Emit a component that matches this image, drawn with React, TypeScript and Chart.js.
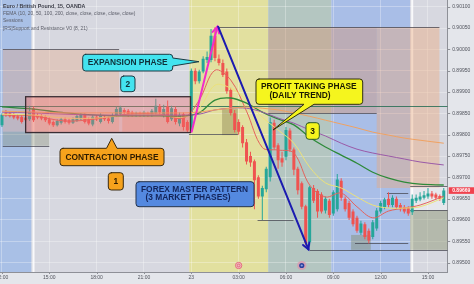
import React, { useEffect, useRef } from 'react';
import { Chart, registerables } from 'chart.js';

Chart.register(...registerables);

// ---- candles (15 min, index 0 = 12:00 on the 22nd) ----
const opens = [
  0.89822, 0.89852, 0.8985, 0.89846, 0.89843, 0.89842, 0.8984, 0.89836, 0.89862, 0.89846,
  0.89844, 0.89842, 0.89836, 0.8983, 0.89822, 0.89828, 0.89836, 0.89834, 0.89828, 0.89832,
  0.89836, 0.89846, 0.89836, 0.89824, 0.89842, 0.8983, 0.89842, 0.89838, 0.8983, 0.89846,
  0.89848, 0.89858, 0.89856, 0.89852, 0.89846, 0.8985, 0.89846, 0.8985, 0.89846, 0.8985,
  0.89866, 0.89844, 0.89866, 0.89836, 0.8986, 0.89826, 0.89848, 0.8983, 0.89812, 0.8995,
  0.89925, 0.89948, 0.89975, 0.89975, 0.90032, 0.89978, 0.89968, 0.89948, 0.89905, 0.8985,
  0.8983, 0.89818, 0.89782, 0.8975, 0.89738, 0.897, 0.89655, 0.89672, 0.897, 0.89828,
  0.89775, 0.89745, 0.89748, 0.8981, 0.89765, 0.8972, 0.89686, 0.89632, 0.89548, 0.89675,
  0.89668, 0.8966, 0.89622, 0.89645, 0.89615, 0.89625, 0.89692, 0.8965, 0.8964, 0.8962,
  0.89605, 0.8957, 0.8959, 0.89575, 0.8956, 0.8958, 0.8962, 0.8963, 0.8965, 0.89635,
  0.8965, 0.89635, 0.8963, 0.89628, 0.89618, 0.89645, 0.89648, 0.89652, 0.89655, 0.89662,
  0.8966, 0.89656, 0.8964,
];
const highs = [
  0.8985, 0.89858, 0.89855, 0.8985, 0.89848, 0.89846, 0.89844, 0.89868, 0.89866, 0.8985,
  0.89848, 0.89845, 0.8984, 0.89833, 0.89836, 0.8984, 0.8984, 0.89838, 0.8984, 0.89848,
  0.8985, 0.8985, 0.8984, 0.89846, 0.89846, 0.8985, 0.89846, 0.89842, 0.8985, 0.89866,
  0.89868, 0.89862, 0.8986, 0.89856, 0.89854, 0.89854, 0.89856, 0.89854, 0.8986, 0.89884,
  0.89872, 0.8987, 0.8988, 0.89868, 0.89866, 0.89852, 0.89852, 0.89834, 0.89955, 0.89956,
  0.89952, 0.89984, 0.89995, 0.90048, 0.90052, 0.89988, 0.89976, 0.89955, 0.8991, 0.89858,
  0.89836, 0.89822, 0.8979, 0.8976, 0.89742, 0.89705, 0.8968, 0.89725, 0.8984, 0.89835,
  0.8978, 0.8976, 0.89818, 0.89815, 0.8977, 0.89725, 0.8969, 0.89636, 0.8968, 0.89682,
  0.89672, 0.89665, 0.89655, 0.8965, 0.8967, 0.89708, 0.89698, 0.89655, 0.89645, 0.89625,
  0.8961, 0.89598, 0.89595, 0.8958, 0.896, 0.89628, 0.89645, 0.89652, 0.89665, 0.89658,
  0.89655, 0.8964, 0.89635, 0.89632, 0.8966, 0.8966, 0.89665, 0.89668, 0.89675, 0.89668,
  0.89664, 0.8966, 0.89675,
];
const lows = [
  0.89818, 0.89842, 0.8984, 0.89836, 0.89834, 0.89826, 0.8983, 0.89832, 0.8983, 0.89836,
  0.89834, 0.8983, 0.89822, 0.89818, 0.89819, 0.89824, 0.89826, 0.89824, 0.89825, 0.8983,
  0.89833, 0.89826, 0.89822, 0.8982, 0.89832, 0.89826, 0.89832, 0.89826, 0.89826, 0.89842,
  0.89844, 0.89848, 0.89842, 0.89842, 0.89842, 0.89842, 0.89842, 0.89842, 0.89842, 0.89846,
  0.89846, 0.8984, 0.89826, 0.89832, 0.89824, 0.8982, 0.8981, 0.89806, 0.89808, 0.89918,
  0.8992, 0.89944, 0.89968, 0.8997, 0.89972, 0.89962, 0.89935, 0.89896, 0.89845, 0.89805,
  0.898, 0.8977, 0.8973, 0.89725, 0.89625, 0.8965, 0.896, 0.89665, 0.8969, 0.89765,
  0.8972, 0.89725, 0.8974, 0.8976, 0.89705, 0.8966, 0.89625, 0.8954, 0.8954, 0.8964,
  0.89605, 0.89615, 0.89615, 0.89605, 0.8961, 0.8962, 0.89645, 0.8962, 0.896, 0.89585,
  0.8957, 0.89565, 0.89555, 0.89545, 0.89555, 0.89575, 0.89615, 0.89625, 0.8963, 0.8963,
  0.89625, 0.8962, 0.89615, 0.8961, 0.89612, 0.8964, 0.89644, 0.89648, 0.8965, 0.8965,
  0.89648, 0.89645, 0.89635,
];
const closes = [
  0.89846, 0.89846, 0.89843, 0.8984, 0.89838, 0.8983, 0.89834, 0.89854, 0.89834, 0.8984,
  0.89838, 0.89834, 0.89826, 0.89822, 0.89832, 0.89836, 0.8983, 0.89828, 0.89836, 0.89844,
  0.89846, 0.8983, 0.89826, 0.89842, 0.89836, 0.89846, 0.89836, 0.89832, 0.89846, 0.8986,
  0.89864, 0.89852, 0.89846, 0.89846, 0.8985, 0.89846, 0.89852, 0.89846, 0.89856, 0.89868,
  0.89852, 0.8986, 0.8983, 0.89862, 0.8983, 0.89846, 0.89818, 0.8981, 0.8995, 0.89925,
  0.89948, 0.89978, 0.89982, 0.90032, 0.8998, 0.89968, 0.8994, 0.89902, 0.89851, 0.89811,
  0.89807, 0.8978, 0.89737, 0.89735, 0.89693, 0.89655, 0.89675, 0.8972, 0.8983, 0.8977,
  0.8974, 0.89735, 0.89811, 0.89765, 0.89718, 0.8967, 0.89631, 0.89546, 0.89677, 0.89645,
  0.8962, 0.8962, 0.8965, 0.89612, 0.89665, 0.89695, 0.89652, 0.89625, 0.89605, 0.8959,
  0.89575, 0.89592, 0.8956, 0.89552, 0.89595, 0.89622, 0.8964, 0.89648, 0.89635, 0.89652,
  0.8963, 0.89625, 0.8962, 0.89615, 0.8965, 0.89652, 0.89655, 0.89658, 0.89662, 0.89655,
  0.89652, 0.8965, 0.89669,
];

// ---- moving averages, sampled at candle indices ----
const emaIndex = [0, 8, 16, 24, 32, 40, 46, 50, 54, 58, 62, 66, 70, 74, 78, 82, 86, 90, 94, 98, 102, 106, 112];
const ema10 = [0.89846, 0.89844, 0.89832, 0.89837, 0.89848, 0.89848, 0.89839, 0.89881, 0.89951, 0.89928, 0.89855, 0.8977, 0.89764, 0.89757, 0.89682, 0.89654, 0.89663, 0.89631, 0.89605, 0.89621, 0.89628, 0.89635, 0.89656];
const ema20 = [0.89848, 0.89846, 0.89839, 0.89839, 0.89846, 0.89846, 0.89841, 0.89862, 0.89916, 0.89909, 0.89881, 0.89841, 0.89811, 0.8978, 0.89724, 0.89687, 0.89675, 0.89654, 0.89635, 0.89628, 0.89628, 0.89631, 0.89652];
const ema50 = [0.89865, 0.8986, 0.89851, 0.89846, 0.89844, 0.89844, 0.89844, 0.89851, 0.89881, 0.89886, 0.89874, 0.89853, 0.89837, 0.89823, 0.89794, 0.89771, 0.89752, 0.89733, 0.89712, 0.89698, 0.89689, 0.89684, 0.89682];
const ema100 = [0.89853, 0.89851, 0.89848, 0.89846, 0.89846, 0.89846, 0.89846, 0.89848, 0.89858, 0.89862, 0.89862, 0.89853, 0.89839, 0.89827, 0.89811, 0.89797, 0.8978, 0.89766, 0.89757, 0.8975, 0.89743, 0.89736, 0.89729];
const ema200 = [0.89855, 0.89853, 0.89851, 0.89851, 0.89851, 0.89851, 0.89851, 0.89853, 0.89858, 0.89862, 0.89865, 0.89862, 0.89858, 0.89851, 0.89843, 0.89834, 0.89825, 0.89816, 0.89806, 0.89799, 0.89792, 0.89787, 0.8978];

// ---- axes ----
const xTickIndex = [0, 12, 24, 36, 48, 60, 72, 84, 96, 108];
const xTickLabels = ['12:00', '15:00', '18:00', '21:00', '23', '03:00', '06:00', '09:00', '12:00', '15:00'];
const yTickLabels = ['0.90100', '0.90050', '0.90000', '0.89950', '0.89900', '0.89850', '0.89800', '0.89750', '0.89700', '0.89650', '0.89600', '0.89550', '0.89500'];
const lastPrice = 0.89669;
const lastPriceLabel = '0.89669';

// ---- sessions (candle index bounds) ----
const sessionStart = [-0.5, 7.5, 47.5, 67.5, 83.5, 103.5];
const sessionEnd = [7.5, 47.5, 67.5, 83.5, 103.5, 113];
const sessionMarks = [8, 104];

// ---- support / resistance zones ----
const zoneStart = [0.2, 0.2, 30.5, 55.8, 67.5, 95, 103.5, 88.5, 103.5];
const zoneEnd = [29.7, 12, 47.5, 59.8, 95, 110.9, 113, 93.5, 113];
const zoneTop = [0.9, 0.89807, 0.8985, 0.8986, 0.90052, 0.90052, 0.89623, 0.89565, 0.8968];
const zoneBottom = [0.89807, 0.89774, 0.89807, 0.89799, 0.8985, 0.89675, 0.8953, 0.8953, 0.89623];

const levelStart = [0.2, 0.2, 47.4, 54.8, 64.8, 67.5, 78, 97.6, 103.5, 103.5, 89.5];
const levelEnd = [29.7, 12, 59.8, 110.9, 73.9, 95, 113, 103, 113, 113, 103];
const levelPrice = [0.9, 0.89774, 0.89801, 0.90052, 0.896, 0.8985, 0.8953, 0.89663, 0.89623, 0.8968, 0.89545];
const keyLevel = 0.89867;

// ---- pattern annotations (data coordinates) ----
const contractionIndex = [6, 47.8];
const contractionPrice = [0.89889, 0.89805];
const pinkArrowIndex = [48.1, 54.6];
const pinkArrowPrice = [0.89807, 0.90053];
const blueArrowIndex = [54.8, 77.7];
const blueArrowPrice = [0.90053, 0.89531];
const eventIndex = [60, 76];

// ---- styles ----
const sessionColors = ['#a9c0e6', '#d7d8e0', '#e2e09f', '#b4c6c1', '#a9bee7', '#d7d8e0'];
const zoneColors = [
  'rgba(236,160,115,0.30)',
  'rgba(125,135,100,0.32)',
  'rgba(236,140,95,0.30)',
  'rgba(125,115,70,0.38)',
  'rgba(214,145,110,0.40)',
  'rgba(238,168,120,0.40)',
  'rgba(120,130,80,0.36)',
  'rgba(120,130,80,0.36)',
  'rgba(255,255,255,0.38)',
];
const UP = '#26a69a';
const DOWN = '#ef5350';
const FONT = '"Liberation Sans", Arial, sans-serif';

const legendLines = [
  'Euro / British Pound, 15, OANDA',
  'FEMA (10, 20, 50, 100, 200, close, close, close, close, close)',
  'Sessions',
  '[RS]Support and Resistance V0 (8, 21)',
];

const callouts: any[] = [
  { x: 82.7, y: 54.3, w: 90, h: 16.7, fill: '#43e3ef', stroke: '#1c3b44', color: '#0f2f38', lines: ['EXPANSION PHASE'], lx: [127.7], ly: [62.9], align: 'center', wedge: { side: 'right', a: 58, b: 66, tx: 199, ty: 61.7 } },
  { x: 120.7, y: 76, w: 14.3, h: 15.7, fill: '#43e3ef', stroke: '#1c3b44', color: '#0f2f38', lines: ['2'], lx: [127.9], ly: [84.2], align: 'center' },
  { x: 60, y: 148.3, w: 104, h: 17.4, fill: '#f6a21c', stroke: '#3a2a10', color: '#2e1c00', lines: ['CONTRACTION PHASE'], lx: [112], ly: [157.3], align: 'center', wedge: { side: 'top', a: 106.5, b: 117, tx: 111.7, ty: 138.3 } },
  { x: 108.3, y: 172.7, w: 15, h: 17.3, fill: '#f6a21c', stroke: '#3a2a10', color: '#2e1c00', lines: ['1'], lx: [115.8], ly: [181.6], align: 'center' },
  { x: 136, y: 181.7, w: 118, h: 25, fill: '#5489e0', stroke: '#25334a', color: '#13245a', lines: ['FOREX MASTER PATTERN', '(3 MARKET PHASES)'], lx: [141, 145.5], ly: [189.2, 197.6], align: 'left' },
  { x: 256, y: 79, w: 106.7, h: 25.3, fill: '#f5f51e', stroke: '#303010', color: '#1a1a00', lines: ['PROFIT TAKING PHASE', '(DAILY TREND)'], lx: [261, 269.5], ly: [87, 95.4], align: 'left', wedge: { side: 'bottom', a: 304, b: 314, tx: 273, ty: 130 } },
  { x: 306, y: 122.7, w: 13.3, h: 16.6, fill: '#f5f51e', stroke: '#2d5a2a', color: '#1a1a00', lines: ['3'], lx: [312.7], ly: [131.4], align: 'center' },
];

function calloutPath(ctx: any, c: any) {
  const { x, y, w, h } = c;
  const r = 3;
  const wd = c.wedge;
  ctx.beginPath();
  ctx.moveTo(x + r, y);
  if (wd && wd.side === 'top') {
    ctx.lineTo(wd.a, y);
    ctx.lineTo(wd.tx, wd.ty);
    ctx.lineTo(wd.b, y);
  }
  ctx.lineTo(x + w - r, y);
  ctx.arcTo(x + w, y, x + w, y + r, r);
  if (wd && wd.side === 'right') {
    ctx.lineTo(x + w, wd.a);
    ctx.lineTo(wd.tx, wd.ty);
    ctx.lineTo(x + w, wd.b);
  }
  ctx.lineTo(x + w, y + h - r);
  ctx.arcTo(x + w, y + h, x + w - r, y + h, r);
  if (wd && wd.side === 'bottom') {
    ctx.lineTo(wd.b, y + h);
    ctx.lineTo(wd.tx, wd.ty);
    ctx.lineTo(wd.a, y + h);
  }
  ctx.lineTo(x + r, y + h);
  ctx.arcTo(x, y + h, x, y + h - r, r);
  ctx.lineTo(x, y + r);
  ctx.arcTo(x, y, x + r, y, r);
  ctx.closePath();
}

function arrow(ctx: any, x0: number, y0: number, x1: number, y1: number, color: string) {
  ctx.strokeStyle = color;
  ctx.lineWidth = 2;
  ctx.lineCap = 'round';
  ctx.beginPath();
  ctx.moveTo(x0, y0);
  ctx.lineTo(x1, y1);
  ctx.stroke();
  const ang = Math.atan2(y1 - y0, x1 - x0);
  const len = 7;
  ctx.beginPath();
  ctx.moveTo(x1 - len * Math.cos(ang - 0.5), y1 - len * Math.sin(ang - 0.5));
  ctx.lineTo(x1, y1);
  ctx.lineTo(x1 - len * Math.cos(ang + 0.5), y1 - len * Math.sin(ang + 0.5));
  ctx.stroke();
}

const overlayPlugin = {
  id: 'fxOverlay',
  beforeDraw(chart: any) {
    const { ctx, chartArea: a } = chart;
    const X = (v: number) => chart.scales.x.getPixelForValue(v);
    ctx.save();
    ctx.fillStyle = '#e4e6eb';
    ctx.fillRect(0, 0, chart.width, chart.height);
    ctx.beginPath();
    ctx.rect(a.left, a.top, a.right - a.left, a.bottom - a.top);
    ctx.clip();
    sessionStart.forEach((s, k) => {
      const x0 = X(s);
      const x1 = X(sessionEnd[k]);
      ctx.fillStyle = sessionColors[k];
      ctx.fillRect(x0, a.top, x1 - x0, a.bottom - a.top);
    });
    ctx.strokeStyle = 'rgba(255,255,255,0.85)';
    ctx.lineWidth = 2;
    sessionMarks.forEach((m) => {
      const x = X(m);
      ctx.beginPath();
      ctx.moveTo(x, a.top);
      ctx.lineTo(x, a.bottom);
      ctx.stroke();
    });
    ctx.restore();
  },
  beforeDatasetsDraw(chart: any) {
    const { ctx, chartArea: a } = chart;
    const X = (v: number) => chart.scales.x.getPixelForValue(v);
    const Y = (v: number) => chart.scales.y.getPixelForValue(v);
    ctx.save();
    ctx.beginPath();
    ctx.rect(a.left, a.top, a.right - a.left, a.bottom - a.top);
    ctx.clip();
    zoneStart.forEach((s, k) => {
      const x0 = X(s);
      const x1 = X(zoneEnd[k]);
      const y0 = Y(zoneTop[k]);
      const y1 = Y(zoneBottom[k]);
      ctx.fillStyle = zoneColors[k];
      ctx.fillRect(x0, y0, x1 - x0, y1 - y0);
    });
    ctx.strokeStyle = 'rgba(70,70,80,0.75)';
    ctx.lineWidth = 1;
    levelStart.forEach((s, k) => {
      const y = Math.round(Y(levelPrice[k])) + 0.5;
      ctx.beginPath();
      ctx.moveTo(X(s), y);
      ctx.lineTo(X(levelEnd[k]), y);
      ctx.stroke();
    });
    ctx.strokeStyle = 'rgba(40,110,85,0.85)';
    const ky = Math.round(Y(keyLevel)) + 0.5;
    ctx.beginPath();
    ctx.moveTo(a.left, ky);
    ctx.lineTo(a.right, ky);
    ctx.stroke();
    ctx.restore();
  },
  afterDatasetsDraw(chart: any) {
    const { ctx, chartArea: a } = chart;
    const X = (v: number) => chart.scales.x.getPixelForValue(v);
    const Y = (v: number) => chart.scales.y.getPixelForValue(v);
    ctx.save();
    // contraction box
    const cx0 = X(contractionIndex[0]);
    const cx1 = X(contractionIndex[1]);
    const cy0 = Y(contractionPrice[0]);
    const cy1 = Y(contractionPrice[1]);
    ctx.fillStyle = 'rgba(245,105,105,0.36)';
    ctx.fillRect(cx0, cy0, cx1 - cx0, cy1 - cy0);
    ctx.strokeStyle = '#3a2e34';
    ctx.lineWidth = 1.3;
    ctx.strokeRect(cx0, cy0, cx1 - cx0, cy1 - cy0);
    // arrows
    arrow(ctx, X(pinkArrowIndex[0]), Y(pinkArrowPrice[0]), X(pinkArrowIndex[1]), Y(pinkArrowPrice[1]), '#f22ccb');
    arrow(ctx, X(blueArrowIndex[0]), Y(blueArrowPrice[0]), X(blueArrowIndex[1]), Y(blueArrowPrice[1]), '#1b1bb0');
    // callouts
    callouts.forEach((c) => {
      calloutPath(ctx, c);
      ctx.fillStyle = c.fill;
      ctx.fill();
      ctx.strokeStyle = c.stroke;
      ctx.lineWidth = 1;
      ctx.lineJoin = 'round';
      ctx.stroke();
      ctx.fillStyle = c.color;
      ctx.font = `bold 8.4px ${FONT}`;
      ctx.textBaseline = 'middle';
      ctx.textAlign = c.align;
      c.lines.forEach((t: string, k: number) => ctx.fillText(t, c.lx[k], c.ly[k]));
    });
    ctx.restore();
  },
  afterDraw(chart: any) {
    const { ctx, chartArea: a } = chart;
    const X = (v: number) => chart.scales.x.getPixelForValue(v);
    const Y = (v: number) => chart.scales.y.getPixelForValue(v);
    ctx.save();
    // y labels
    ctx.font = `5px ${FONT}`;
    ctx.textAlign = 'left';
    ctx.textBaseline = 'middle';
    ctx.strokeStyle = '#8e9097';
    ctx.lineWidth = 1;
    yTickLabels.forEach((t) => {
      const y = Y(parseFloat(t));
      ctx.beginPath();
      ctx.moveTo(a.right, Math.round(y) + 0.5);
      ctx.lineTo(a.right + 2.5, Math.round(y) + 0.5);
      ctx.stroke();
      ctx.fillStyle = '#50535c';
      ctx.fillText(t, a.right + 4.5, y);
    });
    // last price
    const py = Y(lastPrice);
    ctx.fillStyle = '#f0424e';
    ctx.fillRect(a.right + 1, py - 3.3, 26.3, 6.6);
    ctx.fillStyle = '#ffffff';
    ctx.font = `bold 5px ${FONT}`;
    ctx.fillText(lastPriceLabel, a.right + 4.5, py + 0.2);
    // x labels
    ctx.font = `5px ${FONT}`;
    ctx.textAlign = 'center';
    xTickIndex.forEach((v, k) => {
      const x = X(v);
      ctx.beginPath();
      ctx.moveTo(Math.round(x) + 0.5, a.bottom);
      ctx.lineTo(Math.round(x) + 0.5, a.bottom + 2);
      ctx.stroke();
      ctx.fillStyle = '#50535c';
      ctx.fillText(xTickLabels[k], x, a.bottom + 6);
    });
    // legend
    ctx.textAlign = 'left';
    legendLines.forEach((t, k) => {
      ctx.font = k === 0 ? `bold 5.3px ${FONT}` : `4.9px ${FONT}`;
      ctx.fillStyle = k === 0 ? '#3b3d48' : '#5b5d68';
      ctx.fillText(t, 3, 6.7 + k * 7.2);
    });
    // event markers
    const my = a.bottom - 6.5;
    const e0 = X(eventIndex[0]);
    ctx.beginPath();
    ctx.arc(e0, my, 3.2, 0, Math.PI * 2);
    ctx.fillStyle = '#f2b6c0';
    ctx.fill();
    ctx.strokeStyle = '#e0606e';
    ctx.lineWidth = 0.8;
    ctx.stroke();
    ctx.beginPath();
    ctx.arc(e0, my, 1.4, 0, Math.PI * 2);
    ctx.stroke();
    const e1 = X(eventIndex[1]);
    ctx.beginPath();
    ctx.arc(e1, my, 4.6, 0, Math.PI * 2);
    ctx.fillStyle = 'rgba(220,150,175,0.8)';
    ctx.fill();
    ctx.beginPath();
    ctx.arc(e1, my, 2.6, 0, Math.PI * 2);
    ctx.fillStyle = '#2a3f9e';
    ctx.fill();
    ctx.beginPath();
    ctx.arc(e1, my, 1.1, 0, Math.PI * 2);
    ctx.fillStyle = '#8fa0e0';
    ctx.fill();
    ctx.restore();
  },
};

export default function App() {
  const ref = useRef<HTMLCanvasElement>(null);
  useEffect(() => {
    if (!ref.current) return;
    const colors = opens.map((o, i) => (closes[i] >= o ? UP : DOWN));
    const wickData = opens.map((_, i) => ({ x: i, y: [lows[i], highs[i]] }));
    const bodyData = opens.map((o, i) => ({ x: i, y: [Math.min(o, closes[i]), Math.max(o, closes[i])] }));
    const line = (vals: number[], color: string, width: number) => ({
      type: 'line',
      data: emaIndex.map((x, k) => ({ x, y: vals[k] })),
      borderColor: color,
      borderWidth: width,
      pointRadius: 0,
      tension: 0.35,
      order: 0,
    });
    const chart = new Chart(ref.current, {
      type: 'bar',
      data: {
        datasets: [
          { type: 'bar', data: wickData, backgroundColor: colors, grouped: false, maxBarThickness: 1, order: 3 } as any,
          { type: 'bar', data: bodyData, backgroundColor: colors, grouped: false, barPercentage: 1, categoryPercentage: 0.76, maxBarThickness: 3, order: 2 } as any,
          line(ema200, '#f0a262', 1),
          line(ema100, '#9a5aa8', 1),
          line(ema50, '#2e8a3a', 1.3),
          line(ema20, '#ece27a', 1),
          line(ema10, '#e4625c', 1),
        ],
      },
      options: {
        responsive: false,
        animation: false,
        devicePixelRatio: 1,
        layout: { padding: 0 },
        plugins: { legend: { display: false }, tooltip: { enabled: false } },
        scales: {
          x: {
            type: 'linear',
            min: -0.5,
            max: 113,
            offset: false,
            ticks: { display: false, stepSize: 12, includeBounds: false },
            grid: { color: 'rgba(255,255,255,0.3)', drawTicks: false, offset: false },
            border: { color: '#8e9097' },
            afterFit: (s: any) => {
              s.height = 12;
            },
          },
          y: {
            type: 'linear',
            position: 'right',
            min: 0.894781,
            max: 0.901157,
            ticks: { display: false, stepSize: 0.0005, includeBounds: false },
            grid: { color: 'rgba(255,255,255,0.3)', drawTicks: false },
            border: { color: '#8e9097' },
            afterFit: (s: any) => {
              s.width = 26.3;
            },
          },
        },
      } as any,
      plugins: [overlayPlugin],
    } as any);
    return () => chart.destroy();
  }, []);
  return (
    <div style={{ position: 'fixed', left: 0, top: 0, width: 474, height: 284, background: '#e4e6eb' }}>
      <canvas ref={ref} width={474} height={284} style={{ display: 'block', width: 474, height: 284 }} />
    </div>
  );
}
